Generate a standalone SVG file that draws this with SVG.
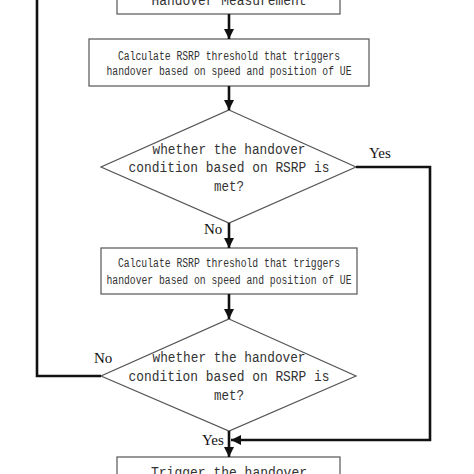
<svg xmlns="http://www.w3.org/2000/svg" width="474" height="474" viewBox="0 0 474 474">
<defs>
<style>
.box{fill:#fff;stroke:#555;stroke-width:1.2}
.t{font-family:"Liberation Mono",monospace;fill:#333;text-anchor:middle}
.s{font-size:12.5px}
.m{font-size:15.5px}
.lbl{font-family:"Liberation Serif",serif;font-size:15px;fill:#111}
.c{fill:none;stroke:#111;stroke-width:2.6}
</style>
<marker id="ah" viewBox="0 0 10 10" refX="10" refY="5" markerWidth="4" markerHeight="4.2" markerUnits="strokeWidth" orient="auto">
<path d="M0,0 L10,5 L0,10 z" fill="#111"/>
</marker>
</defs>
<rect width="474" height="474" fill="#fff"/>
<g id="n1">
<rect class="box" x="117" y="-20" width="223" height="34"/>
<text class="t m" x="229" y="5" textLength="155" lengthAdjust="spacingAndGlyphs">Handover Measurement</text>
</g>
<g id="n2">
<rect class="box" x="89" y="39" width="280" height="47"/>
<text class="t s" x="229" y="60" textLength="222" lengthAdjust="spacingAndGlyphs">Calculate RSRP threshold that triggers</text>
<text class="t s" x="229" y="75" textLength="245" lengthAdjust="spacingAndGlyphs">handover based on speed and position of UE</text>
</g>
<g id="n3">
<polygon class="box" points="229,110 356,167 229,223 101,167"/>
<text class="t m" x="229" y="154" textLength="153" lengthAdjust="spacingAndGlyphs">whether the handover</text>
<text class="t m" x="229" y="172" textLength="201" lengthAdjust="spacingAndGlyphs">condition based on RSRP is</text>
<text class="t m" x="229" y="191" textLength="30" lengthAdjust="spacingAndGlyphs">met?</text>
</g>
<g id="n4">
<rect class="box" x="101" y="248" width="256" height="46"/>
<text class="t s" x="229" y="267" textLength="222" lengthAdjust="spacingAndGlyphs">Calculate RSRP threshold that triggers</text>
<text class="t s" x="229" y="284" textLength="245" lengthAdjust="spacingAndGlyphs">handover based on speed and position of UE</text>
</g>
<g id="n5">
<polygon class="box" points="229,319 356,376 229,431 101,376"/>
<text class="t m" x="229" y="362" textLength="153" lengthAdjust="spacingAndGlyphs">whether the handover</text>
<text class="t m" x="229" y="381" textLength="201" lengthAdjust="spacingAndGlyphs">condition based on RSRP is</text>
<text class="t m" x="229" y="400" textLength="30" lengthAdjust="spacingAndGlyphs">met?</text>
</g>
<g id="n6">
<rect class="box" x="117" y="457" width="223" height="40"/>
<text class="t m" x="229" y="477" textLength="156" lengthAdjust="spacingAndGlyphs">Trigger the handover</text>
</g>
<g id="connectors">
<line class="c" x1="229" y1="14" x2="229" y2="39" marker-end="url(#ah)"/>
<line class="c" x1="229" y1="86" x2="229" y2="110" marker-end="url(#ah)"/>
<line class="c" x1="229" y1="223" x2="229" y2="248" marker-end="url(#ah)"/>
<line class="c" x1="229" y1="294" x2="229" y2="319" marker-end="url(#ah)"/>
<line class="c" x1="229" y1="431" x2="229" y2="457" marker-end="url(#ah)"/>
<polyline class="c" points="356,167 430,167 430,440 231,440" marker-end="url(#ah)"/>
<polyline class="c" points="101,376 37,376 37,-5"/>
<text class="lbl" x="369" y="158">Yes</text>
<text class="lbl" x="204" y="234">No</text>
<text class="lbl" x="94" y="363">No</text>
<text class="lbl" x="202" y="445">Yes</text>
</g>
</svg>
